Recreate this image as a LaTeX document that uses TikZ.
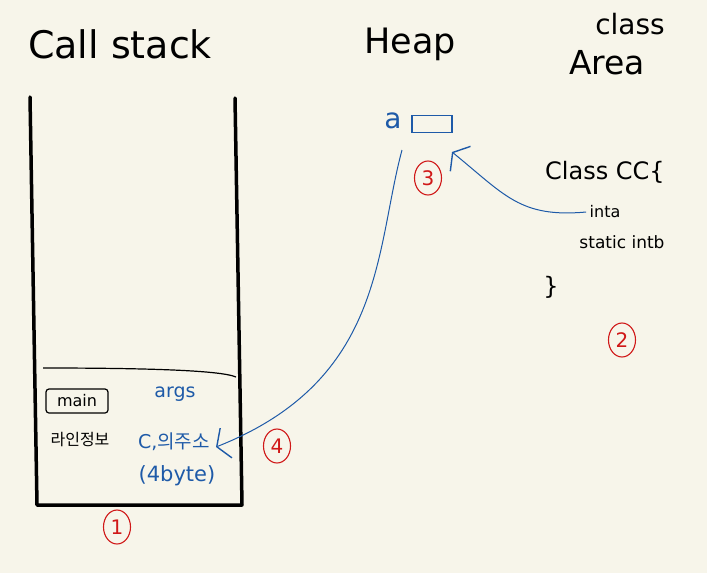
\documentclass[tikz,border=0pt]{standalone}
\usepackage{fontspec}
\usetikzlibrary{shapes.geometric,arrows.meta}
\setmainfont{DejaVu Sans}
\newfontfamily\kr{Noto Sans CJK KR}
\definecolor{bg}{HTML}{F7F5EA}
\definecolor{pen}{HTML}{1E5AA8}
\definecolor{redpen}{HTML}{D01818}
\begin{document}
\begin{tikzpicture}[x=1pt,y=-1pt,
  wall/.style={line width=3.5pt,black,line cap=round,line join=round},
  bluetxt/.style={text=pen,font=\fontsize{19}{21}\selectfont},
  blktxt/.style={text=black,font=\fontsize{16}{18}\selectfont},
  title/.style={text=black,font=\fontsize{38}{40}\selectfont},
  num/.style={draw=redpen,text=redpen,ellipse,inner sep=0pt,minimum width=27pt,minimum height=34pt,line width=1.1pt,font=\fontsize{20}{22}\selectfont},
  link/.style={draw=pen,line width=1pt,-{Straight Barb[length=10pt,width=32pt,line width=1.4pt]}}]
\fill[bg] (0,0) rectangle (707,573);
\useasboundingbox (0,0) rectangle (707,573);
% titles
\node[title] (tcall) at (120,44) {Call stack};
\node[title,font=\fontsize{35}{37}\selectfont] (theap) at (410,44) {Heap};
\node[title,font=\fontsize{28}{30}\selectfont] (tclass) at (630,24) {class};
\node[title,font=\fontsize{33}{35}\selectfont] (tarea) at (607,63) {Area};
% stack
\coordinate (tl) at (30,97);
\coordinate (bl) at (37,505);
\coordinate (br) at (242,505);
\coordinate (tr) at (235,98);
\draw[wall] (tl) -- (bl) -- (br) -- (tr);
\coordinate (fl) at (43,368);
\coordinate (fr) at (236,377);
\draw[line width=1.2pt] (fl) .. controls (140,368) and (220,370) .. (fr);
\node[blktxt,draw,rounded corners=3pt,line width=1.2pt,minimum width=62pt,minimum height=24pt] (main) at (77,401) {main};
\node[bluetxt] (args) at (175,394) {args};
\node[blktxt] (line) at (80,440) {\kr 라인정보};
\node[bluetxt] (addr) at (174,442) {C,{\kr 의주소}};
\node[bluetxt,font=\fontsize{21}{23}\selectfont] (byte) at (177,476) {(4byte)};
\coordinate (addrin) at (216,447);
% heap
\node[bluetxt,font=\fontsize{28}{30}\selectfont] (a) at (393,121) {a};
\node[draw=pen,line width=1.3pt,minimum width=40pt,minimum height=17pt,inner sep=0pt] (abox) at (432,124) {};
\coordinate (aout) at (402,150);
\coordinate (ain) at (452,152);
% class area
\node[blktxt,font=\fontsize{24}{26}\selectfont] (cls) at (605,172) {Class CC\{};
\node[blktxt,font=\fontsize{16}{18}\selectfont] (inta) at (605,212) {inta};
\node[blktxt,font=\fontsize{17}{19}\selectfont] (intb) at (622,242) {static intb};
\node[blktxt,font=\fontsize{24}{26}\selectfont] (close) at (551,287) {\}};
% numbers
\node[num] (n1) at (117,527) {1};
\node[num] (n2) at (622,340) {2};
\node[num] (n3) at (428,178) {3};
\node[num] (n4) at (277,446) {4};
% connectors
\draw[link] (aout) .. controls (375,250) and (385,380) .. (addrin);
\draw[link] (inta.west) .. controls (520,218) and (505,195) .. (ain);
\end{tikzpicture}
\end{document}
